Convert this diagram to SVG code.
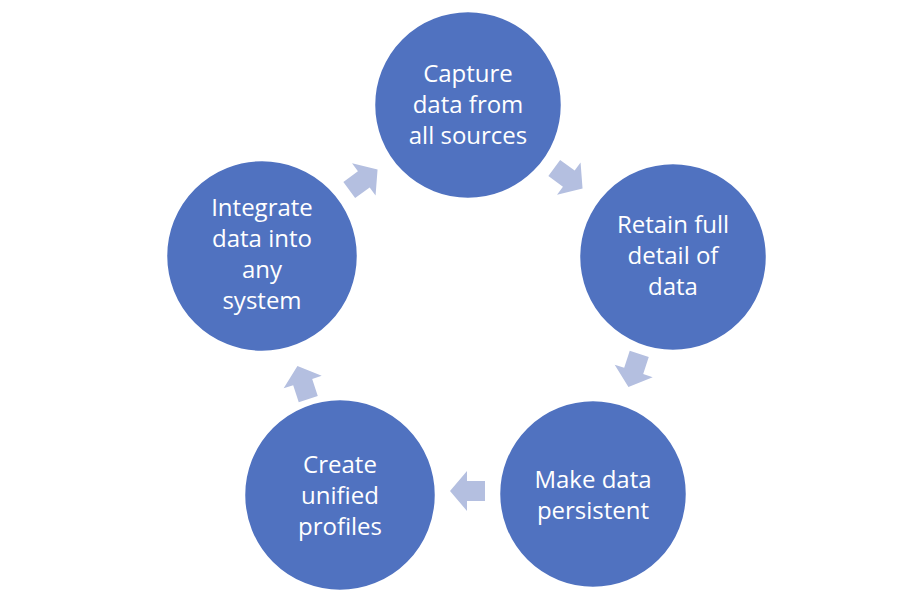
<svg xmlns="http://www.w3.org/2000/svg" width="918" height="592" viewBox="0 0 918 592">
<style>
.c{fill:#5072c0;stroke:#fff;stroke-width:2.5}
.t{font-family:"Open Sans","Liberation Sans",sans-serif;font-size:24px;fill:#fff;text-anchor:middle}
.a{fill:#b4bfe0}
</style>
<defs><path id="ar" d="M-17,-10 L1,-10 L1,-20 L18,0 L1,20 L1,10 L-17,10 Z"/></defs>
<rect width="918" height="592" fill="#fff"/>
<g id="connectors">
<use href="#ar" class="a" transform="translate(568,178) rotate(36)"/>
<use href="#ar" class="a" transform="translate(634,370) rotate(108)"/>
<use href="#ar" class="a" transform="translate(468,491) rotate(180)"/>
<use href="#ar" class="a" transform="translate(303,383) rotate(252)"/>
<use href="#ar" class="a" transform="translate(363,180) rotate(324)"/>
</g>
<g id="n1"><circle class="c" cx="468" cy="105" r="94"/>
<text class="t" x="468" y="82">Capture</text><text class="t" x="468" y="113">data from</text><text class="t" x="468" y="144">all sources</text></g>
<g id="n2"><circle class="c" cx="673" cy="257" r="94"/>
<text class="t" x="673" y="233">Retain full</text><text class="t" x="673" y="264">detail of</text><text class="t" x="673" y="295">data</text></g>
<g id="n3"><circle class="c" cx="593" cy="494" r="94"/>
<text class="t" x="593" y="488">Make data</text><text class="t" x="593" y="519">persistent</text></g>
<g id="n4"><circle class="c" cx="340" cy="495" r="96"/>
<text class="t" x="340" y="473">Create</text><text class="t" x="340" y="504">unified</text><text class="t" x="340" y="535">profiles</text></g>
<g id="n5"><circle class="c" cx="262" cy="256" r="96"/>
<text class="t" x="262" y="216">Integrate</text><text class="t" x="262" y="247">data into</text><text class="t" x="262" y="278">any</text><text class="t" x="262" y="309">system</text></g>
</svg>
